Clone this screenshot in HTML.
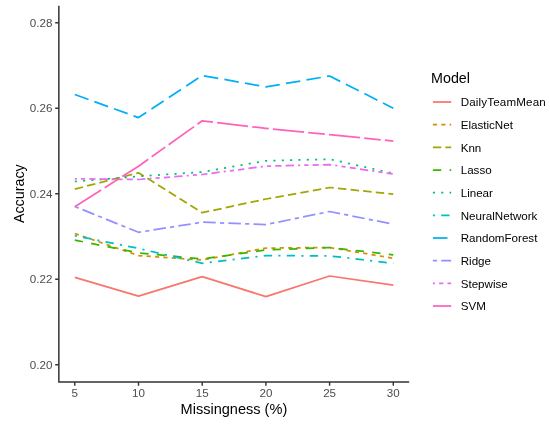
<!DOCTYPE html>
<html><head><meta charset="utf-8"><title>Accuracy vs Missingness</title>
<style>
html,body{margin:0;padding:0;background:#fff;}
body{width:550px;height:427px;overflow:hidden;}
svg{display:block;}
text{font-family:'Liberation Sans', Arial, Helvetica, sans-serif;}
</style></head><body>
<svg width="550" height="427" viewBox="0 0 550 427">
<rect width="550" height="427" fill="#fff"/>

<g fill="none" stroke-width="1.75" stroke-linejoin="round" stroke-linecap="butt">
<polyline points="74.80,277.40 138.50,296.10 202.20,276.70 265.90,296.60 329.60,276.00 393.30,285.10" stroke="#F8766D"/>
<polyline points="74.80,233.50 138.50,255.60 202.20,260.00 265.90,248.10 329.60,247.50 393.30,258.30" stroke="#D89000" stroke-dasharray="4.198,4.198"/>
<polyline points="74.80,189.10 138.50,172.80 202.20,212.70 265.90,199.00 329.60,187.50 393.30,194.10" stroke="#A3A500" stroke-dasharray="8.460,4.230"/>
<polyline points="74.80,240.10 138.50,252.90 202.20,259.00 265.90,250.00 329.60,247.50 393.30,254.90" stroke="#39B600" stroke-dasharray="8.332,8.332"/>
<polyline points="74.80,181.50 138.50,176.40 202.20,172.00 265.90,160.80 329.60,159.20 393.30,173.40" stroke="#00BF7D" stroke-dasharray="2.083,6.249"/>
<polyline points="74.80,235.70 138.50,248.40 202.20,263.30 265.90,255.60 329.60,255.90 393.30,263.30" stroke="#00BFC4" stroke-dasharray="2.091,6.273,8.364,6.273"/>
<polyline points="74.80,94.50 138.50,117.60 202.20,75.50 265.90,86.90 329.60,76.00 393.30,108.20" stroke="#00B0F6" stroke-dasharray="14.581,6.249"/>
<polyline points="74.80,206.50 138.50,232.30 202.20,222.20 265.90,224.60 329.60,211.50 393.30,224.20" stroke="#9590FF" stroke-dasharray="4.194,4.194,12.582,4.194"/>
<polyline points="74.80,178.80 138.50,179.50 202.20,174.50 265.90,166.20 329.60,164.60 393.30,174.00" stroke="#E76BF3" stroke-dasharray="2.074,4.148,4.148,4.148,6.222,4.148,8.296,4.148"/>
<polyline points="74.80,206.70 138.50,166.20 202.20,120.80 265.90,128.40 329.60,134.60 393.30,141.10" stroke="#FF62BC" stroke-dasharray="31.245,4.166,16.664,4.166"/>
</g>
<path d="M58.85 5.80 L58.85 382.10 L409.20 382.10" fill="none" stroke="#333" stroke-width="1.5" stroke-linejoin="miter" stroke-linecap="butt"/>
<path d="M55.20 364.80H58.85 M55.20 279.30H58.85 M55.20 193.80H58.85 M55.20 108.30H58.85 M55.20 22.80H58.85 M74.80 382.10V385.80 M138.50 382.10V385.80 M202.20 382.10V385.80 M265.90 382.10V385.80 M329.60 382.10V385.80 M393.30 382.10V385.80" stroke="#333" stroke-width="1.4" fill="none"/>
<g font-size="11.6" fill="#4D4D4D">
<text x="52.4" y="368.90" text-anchor="end">0.20</text>
<text x="52.4" y="283.40" text-anchor="end">0.22</text>
<text x="52.4" y="197.90" text-anchor="end">0.24</text>
<text x="52.4" y="112.40" text-anchor="end">0.26</text>
<text x="52.4" y="26.90" text-anchor="end">0.28</text>
<text x="74.80" y="397.3" text-anchor="middle">5</text>
<text x="138.50" y="397.3" text-anchor="middle">10</text>
<text x="202.20" y="397.3" text-anchor="middle">15</text>
<text x="265.90" y="397.3" text-anchor="middle">20</text>
<text x="329.60" y="397.3" text-anchor="middle">25</text>
<text x="393.30" y="397.3" text-anchor="middle">30</text>
</g>
<text x="233.9" y="413.95" text-anchor="middle" font-size="14.55" fill="#000">Missingness (%)</text>
<text transform="translate(23.8 193.7) rotate(-90)" text-anchor="middle" font-size="14.3" fill="#000">Accuracy</text>
<text x="431.05" y="82.6" font-size="14.3" fill="#000">Model</text>
<g fill="none" stroke-width="1.75" stroke-linecap="butt">
<line x1="432.9" y1="102.00" x2="451.2" y2="102.00" stroke="#F8766D"/>
<line x1="432.9" y1="124.67" x2="451.2" y2="124.67" stroke="#D89000" stroke-dasharray="4.166,4.166"/>
<line x1="432.9" y1="147.34" x2="451.2" y2="147.34" stroke="#A3A500" stroke-dasharray="8.332,4.166"/>
<line x1="432.9" y1="170.01" x2="451.2" y2="170.01" stroke="#39B600" stroke-dasharray="8.332,8.332"/>
<line x1="432.9" y1="192.68" x2="451.2" y2="192.68" stroke="#00BF7D" stroke-dasharray="2.083,6.249"/>
<line x1="432.9" y1="215.35" x2="451.2" y2="215.35" stroke="#00BFC4" stroke-dasharray="2.083,6.249,8.332,6.249"/>
<line x1="432.9" y1="238.02" x2="451.2" y2="238.02" stroke="#00B0F6" stroke-dasharray="14.581,6.249"/>
<line x1="432.9" y1="260.69" x2="451.2" y2="260.69" stroke="#9590FF" stroke-dasharray="4.166,4.166,12.498,4.166"/>
<line x1="432.9" y1="283.36" x2="451.2" y2="283.36" stroke="#E76BF3" stroke-dasharray="2.083,4.166,4.166,4.166,6.249,4.166,8.332,4.166"/>
<line x1="432.9" y1="306.03" x2="451.2" y2="306.03" stroke="#FF62BC" stroke-dasharray="31.245,4.166,16.664,4.166"/>
</g>
<g font-size="11.6" fill="#000">
<text x="460.7" y="106.45" letter-spacing="0.16">DailyTeamMean</text>
<text x="460.7" y="129.12">ElasticNet</text>
<text x="460.7" y="151.79">Knn</text>
<text x="460.7" y="174.46">Lasso</text>
<text x="460.7" y="197.13">Linear</text>
<text x="460.7" y="219.80">NeuralNetwork</text>
<text x="460.7" y="242.47">RandomForest</text>
<text x="460.7" y="265.14">Ridge</text>
<text x="460.7" y="287.81">Stepwise</text>
<text x="460.7" y="310.48">SVM</text>
</g>
</svg>
</body></html>
